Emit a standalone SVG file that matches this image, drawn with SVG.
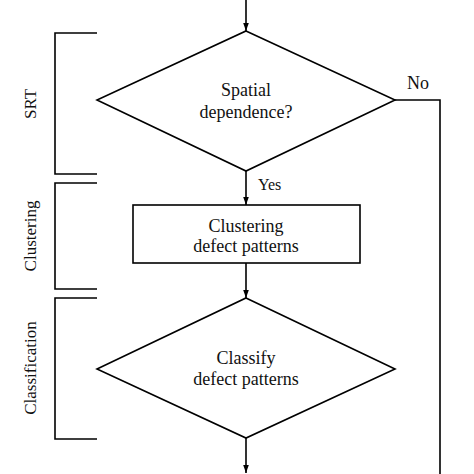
<svg xmlns="http://www.w3.org/2000/svg" width="474" height="474" viewBox="0 0 474 474">
<defs>
<marker id="ah" viewBox="0 0 10 10" refX="10" refY="5" markerWidth="8" markerHeight="8" markerUnits="userSpaceOnUse" orient="auto"><path d="M0,1.5 L10,5 L0,8.5 Z" fill="#000"/></marker>
</defs>
<style>
.s{fill:none;stroke:#000;stroke-width:1.6}
.n{fill:#fff;stroke:#000;stroke-width:1.6}
text{font-family:"Liberation Serif","Times New Roman",serif;fill:#111;text-anchor:middle}
.t{font-size:18px}
.l{font-size:17px}
.y{font-size:16px;text-anchor:start}
</style>
<rect width="474" height="474" fill="#fff"/>
<g id="brackets">
<path class="s" d="M97,33 H55 V174 H97"/>
<path class="s" d="M97,183 H55 V289 H97"/>
<path class="s" d="M97,298 H55 V439 H97"/>
<text class="l" transform="translate(36,104) rotate(-90)">SRT</text>
<text class="l" transform="translate(36,236) rotate(-90)">Clustering</text>
<text class="l" transform="translate(36,368) rotate(-90)">Classification</text>
</g>
<g id="connectors">
<line class="s" x1="246" y1="0" x2="246" y2="31" marker-end="url(#ah)"/>
<line class="s" x1="246" y1="171" x2="246" y2="205" marker-end="url(#ah)"/>
<line class="s" x1="246" y1="263" x2="246" y2="298" marker-end="url(#ah)"/>
<line class="s" x1="246" y1="438" x2="246" y2="473" marker-end="url(#ah)"/>
<path class="s" d="M395,100 H440 V474"/>
<text class="t" x="418" y="89">No</text>
<text class="y" x="258" y="190">Yes</text>
</g>
<g id="spatial">
<polygon class="n" points="246,31 395,100 246,171 97,100"/>
<text class="t" x="246" y="96">Spatial</text>
<text class="t" x="246" y="118">dependence?</text>
</g>
<g id="clustering">
<rect class="n" x="133" y="205" width="227" height="58"/>
<text class="t" x="246" y="232">Clustering</text>
<text class="t" x="246" y="252">defect patterns</text>
</g>
<g id="classify">
<polygon class="n" points="246,298 395,369 246,438 97,369"/>
<text class="t" x="246" y="364">Classify</text>
<text class="t" x="246" y="385">defect patterns</text>
</g>
</svg>
